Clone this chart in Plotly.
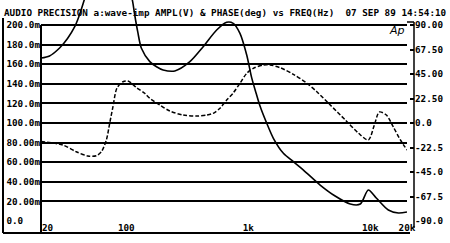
import numpy as np
import plotly.graph_objects as go

# ---- data (amplitude in volts, phase in degrees) ----
amp_freq = [20, 23.5, 28.4, 33.0, 37.7, 40.7, 44.7, 55, 70, 90, 112.9, 117.3, 124.2, 133.1,
            155.9, 177, 200.4, 250, 332, 427, 550.6, 665, 753, 855, 971, 1067, 1158, 1248,
            1417, 1606, 1940, 2343, 2833, 3881, 5152, 6853, 8280, 9635, 11200, 14060, 16990, 20000]
amp_volts = [0.1663, 0.1684, 0.1765, 0.1862, 0.198, 0.208, 0.2235, 0.26, 0.30, 0.28, 0.2235, 0.2102,
             0.1929, 0.1762, 0.1626, 0.1574, 0.1541, 0.1531, 0.1626, 0.1779, 0.1949, 0.2028, 0.2017,
             0.1915, 0.1694, 0.146, 0.1306, 0.1173, 0.0997, 0.0844, 0.0691, 0.0605, 0.0520, 0.0367,
             0.0255, 0.0173, 0.0173, 0.0316, 0.0235, 0.0112, 0.0082, 0.0092]

phase_freq = [20, 30.2, 38.9, 48.5, 56.9, 62.5, 68.7, 73.1, 77.8, 83.9, 94.0, 103.3, 121.1, 141.6,
              155.8, 188.3, 227.5, 292.5, 376.9, 455.5, 516, 586, 665, 753, 855, 971, 1100, 1329,
              1509, 1823, 2345, 3022, 3650, 4700, 6240, 7980, 9640, 10800, 11870, 13550, 15460,
              17660, 20000]
phase_deg = [-17.0, -20.2, -26.4, -30.3, -30.0, -26.4, -15.6, -0.3, 15.0, 32.1, 37.9, 38.6, 32.6,
             27.3, 22.7, 16.5, 11.0, 7.3, 6.4, 7.3, 8.9, 13.5, 21.1, 27.6, 36.5, 45.6, 50.2, 53.3,
             53.3, 50.8, 44.7, 36.5, 28.7, 16.5, 2.8, -9.2, -15.6, -1.8, 10.1, 7.3, -3.7, -15.6, -24.8]

amp_ticks = [0, 0.02, 0.04, 0.06, 0.08, 0.10, 0.12, 0.14, 0.16, 0.18, 0.20]
amp_labels = ["0.0\u00a0\u00a0\u00a0", "20.00m", "40.00m", "60.00m", "80.00m", "100.0m", "120.0m",
              "140.0m", "160.0m", "180.0m", "200.0m"]
phase_ticks = [-90, -67.5, -45, -22.5, 0, 22.5, 45, 67.5, 90]
phase_labels = ["-90.0", "-67.5", "-45.0", "-22.5", "0.0", "22.50", "45.00", "67.50", "90.00"]
freq_ticks = [100, 1000, 10000, 20000]
freq_labels = ["100", "1k", "10k", "20k"]
freq_start_label = "20"
grid_freqs = [20, 30, 40, 50, 60, 70, 80, 90, 100, 200, 300, 400, 500, 600, 700, 800, 900,
              1000, 2000, 3000, 4000, 5000, 6000, 7000, 8000, 9000, 10000, 20000]

title_text = "AUDIO PRECISION a:wave-imp AMPL(V) & PHASE(deg) vs FREQ(Hz)  07 SEP 89 14:54:10"

# ---- layout geometry (pixels) ----
W, H = 450, 243
L, R, T, B = 41, 36, 0, 22
plot_w = W - L - R
plot_h = H - T - B
x_right_px = 407
y_top_px = 25
amp_top = 0.2 + y_top_px * 0.2 / (plot_h - y_top_px)
ph_top = 90 + y_top_px * 180 / (plot_h - y_top_px)

def px_x(p):
    return (p - L) / plot_w

def px_y(p):
    return (plot_h - p) / plot_h

mono = "DejaVu Sans Mono"
fsz = 9.3
tfont = dict(family=mono, size=fsz, color="black", weight="bold")

fig = go.Figure()
fig.add_trace(go.Scatter(x=amp_freq, y=amp_volts, mode="lines",
                         line=dict(color="black", width=1.6, shape="spline", smoothing=0.8),
                         showlegend=False))
fig.add_trace(go.Scatter(x=phase_freq, y=phase_deg, mode="lines", yaxis="y2",
                         line=dict(color="black", width=1.5, dash="4px,2px", shape="spline", smoothing=0.8),
                         showlegend=False))

shapes = []
for f in grid_freqs:
    shapes.append(dict(type="line", xref="x", yref="y", x0=np.log10(f), x1=np.log10(f), y0=0, y1=0.2,
                       line=dict(color="black", width=1, dash="2px,1px"), layer="below"))
shapes.append(dict(type="line", xref="paper", yref="paper", x0=px_x(3), x1=px_x(3), y0=px_y(18), y1=px_y(233),
                   line=dict(color="black", width=2)))
shapes.append(dict(type="line", xref="paper", yref="paper", x0=px_x(3), x1=px_x(410), y0=px_y(233), y1=px_y(233),
                   line=dict(color="black", width=2)))
shapes.append(dict(type="line", xref="paper", yref="paper", x0=px_x(41), x1=px_x(41), y0=px_y(221), y1=px_y(233),
                   line=dict(color="black", width=2)))
shapes.append(dict(type="line", xref="paper", yref="paper", x0=1, x1=1, y0=px_y(22), y1=px_y(228),
                   line=dict(color="black", width=1.5)))
shapes.append(dict(type="line", xref="paper", yref="paper", x0=px_x(407), x1=1, y0=px_y(22), y1=px_y(22),
                   line=dict(color="black", width=1.5)))
shapes.append(dict(type="line", xref="paper", yref="paper", x0=0, x1=0, y0=px_y(25), y1=px_y(221),
                   line=dict(color="black", width=2)))

fig.update_layout(
    width=W, height=H, margin=dict(l=L, r=R, t=T, b=B),
    paper_bgcolor="white", plot_bgcolor="white",
    shapes=shapes,
    xaxis=dict(type="log", range=[np.log10(20), np.log10(20000)], domain=[0, (x_right_px - L) / plot_w],
               tickvals=freq_ticks, ticktext=["<b>%s</b>" % t for t in freq_labels], showgrid=False,
               zeroline=False, ticks="", tickfont=tfont, showline=False),
    yaxis=dict(range=[0, amp_top], tickvals=amp_ticks, ticktext=["<b>%s</b>" % t for t in amp_labels],
               showgrid=True, gridcolor="black", gridwidth=2, zeroline=False, showline=False, ticks="",
               tickfont=tfont),
    yaxis2=dict(range=[-90, ph_top], overlaying="y", anchor="free", position=1, side="right",
                tickvals=phase_ticks, ticktext=["<b>%s</b>" % t for t in phase_labels], showgrid=False,
                zeroline=False, showline=False, ticks="inside", ticklen=4, tickwidth=1.5, tickcolor="black",
                tickfont=tfont),
    annotations=[
        dict(text="<b>%s</b>" % title_text, xref="paper", yref="paper", x=px_x(2), y=px_y(12),
             xanchor="left", yanchor="middle", showarrow=False, font=tfont),
        dict(text="<b>%s</b>" % freq_start_label, xref="paper", yref="paper", x=px_x(40), y=px_y(228),
             xanchor="left", yanchor="middle", showarrow=False, font=tfont),
        dict(text="<i>Ap</i>", xref="paper", yref="paper", x=px_x(397), y=px_y(31), xanchor="center",
             yanchor="middle", showarrow=False, font=dict(family="DejaVu Sans", size=11, color="black")),
    ],
)

fig.write_html("out.html")
